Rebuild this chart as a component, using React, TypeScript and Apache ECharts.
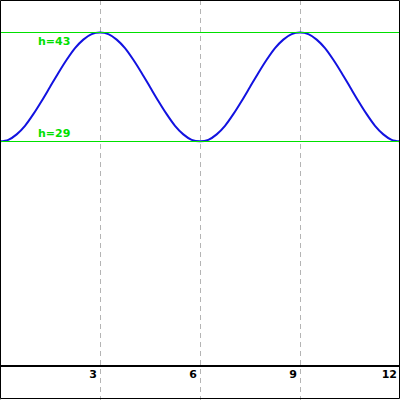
import React, { useEffect, useRef } from "react";
import * as echarts from "echarts";

const times = [0, 0.25, 0.5, 0.75, 1, 1.25, 1.5, 1.75, 2, 2.25, 2.5, 2.75, 3, 3.25, 3.5, 3.75, 4, 4.25, 4.5, 4.75, 5, 5.25, 5.5, 5.75, 6, 6.25, 6.5, 6.75, 7, 7.25, 7.5, 7.75, 8, 8.25, 8.5, 8.75, 9, 9.25, 9.5, 9.75, 10, 10.25, 10.5, 10.75, 11, 11.25, 11.5, 11.75, 12];
const heights = [29, 29.2, 29.9, 31.0, 32.5, 34.2, 36, 37.8, 39.5, 41.0, 42.1, 42.8, 43, 42.8, 42.1, 41.0, 39.5, 37.8, 36, 34.2, 32.5, 31.0, 29.9, 29.2, 29, 29.2, 29.9, 31.0, 32.5, 34.2, 36, 37.8, 39.5, 41.0, 42.1, 42.8, 43, 42.8, 42.1, 41.0, 39.5, 37.8, 36, 34.2, 32.5, 31.0, 29.9, 29.2, 29];
const levelHigh = 43;
const levelLow = 29;
const xTicks = [3, 6, 9, 12];

export default function App() {
  const ref = useRef<HTMLDivElement>(null);
  useEffect(() => {
    if (!ref.current) return;
    const chart = echarts.init(ref.current, undefined, { renderer: "svg" });
    const green = "#00e000";
    const labelFont = { fontFamily: "DejaVu Sans", fontWeight: "bold", fontSize: 11 };
    chart.setOption({
      animation: false,
      backgroundColor: "#ffffff",
      grid: [
        { left: 0, right: 0, top: 0, bottom: 0, outerBoundsMode: "none", containLabel: false },
        { left: 0, right: 0, top: 0, bottom: 34, outerBoundsMode: "none", containLabel: false },
      ],
      xAxis: [
        {
          type: "value",
          gridIndex: 0,
          min: 0,
          max: 12,
          interval: 3,
          axisLine: { show: false },
          axisTick: { show: false },
          axisLabel: { show: false },
          splitLine: { show: true, lineStyle: { color: "#b4b4b4", type: [5, 4], width: 1 } },
        },
        {
          type: "value",
          gridIndex: 1,
          min: 0,
          max: 12,
          interval: 3,
          axisLine: { show: true, onZero: false, lineStyle: { color: "#000", width: 2 } },
          axisTick: { show: false },
          splitLine: { show: false },
          axisLabel: {
            showMinLabel: false,
            formatter: (v: number) => (xTicks.includes(v) ? String(v) : ""),
            color: "#000",
            ...labelFont,
            align: "right",
            margin: 3,
            padding: [0, 3, 0, 0],
          },
        },
      ],
      yAxis: [
        {
          type: "value",
          gridIndex: 0,
          min: -4.3,
          max: 47.2,
          axisLine: { show: false },
          axisTick: { show: false },
          axisLabel: { show: false },
          splitLine: { show: false },
        },
        {
          type: "value",
          gridIndex: 1,
          min: 0,
          max: 10,
          axisLine: { show: false },
          axisTick: { show: false },
          axisLabel: { show: false },
          splitLine: { show: false },
        },
      ],
      series: [
        {
          type: "line",
          xAxisIndex: 0,
          yAxisIndex: 0,
          data: times.map((t, i) => [t, heights[i]]),
          smooth: 0.3,
          showSymbol: false,
          symbol: "none",
          lineStyle: { color: "#1212e0", width: 2 },
          markLine: {
            silent: true,
            symbol: "none",
            lineStyle: { color: green, type: "solid", width: 1 },
            data: [
              {
                yAxis: levelHigh,
                label: {
                  show: true,
                  position: "insideStartBottom",
                  formatter: "h=" + levelHigh,
                  distance: [38, 3],
                  color: green,
                  ...labelFont,
                },
              },
              {
                yAxis: levelLow,
                label: {
                  show: true,
                  position: "insideStartTop",
                  formatter: "h=" + levelLow,
                  distance: [38, 2],
                  color: green,
                  ...labelFont,
                },
              },
            ],
          },
        },
      ],
      graphic: [
        {
          type: "rect",
          shape: { x: 0.5, y: 0.5, width: 399, height: 398 },
          style: { fill: "none", stroke: "#000", lineWidth: 1 },
          z: 100,
        },
      ],
    });
    return () => chart.dispose();
  }, []);
  return (
    <div
      ref={ref}
      style={{ position: "fixed", left: 0, top: 0, width: 400, height: 400 }}
    />
  );
}
